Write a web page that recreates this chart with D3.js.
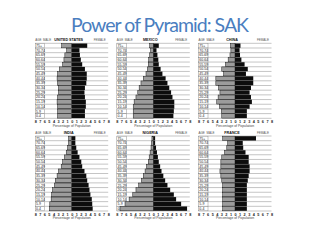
<!DOCTYPE html>
<html>
<head>
<meta charset="utf-8">
<script src="https://cdn.jsdelivr.net/npm/d3@7"></script>
<style>
  body { margin: 0; background: #fff; }
  svg { display: block; }
</style>
</head>
<body>
<svg id="chart" width="320" height="240"></svg>
<script>
// age groups, top to bottom
var ages = ["75+", "70-74", "65-69", "60-64", "55-59", "50-54", "45-49", "40-44",
            "35-39", "30-34", "25-29", "20-24", "15-19", "10-14", "5-9", "0-4"];
var countries = ["UNITED STATES", "MEXICO", "CHINA", "INDIA", "NIGERIA", "FRANCE"];
var tickValues = [-8, -7, -6, -5, -4, -3, -2, -1, 0, 1, 2, 3, 4, 5, 6, 7, 8];

// percentage of population, male / female
var usMale   = [2.2, 1.1, 1.5, 1.7, 2.0, 2.7, 3.1, 3.2, 3.1, 2.9, 2.9, 3.1, 3.2, 3.1, 3.1, 3.1];
var usFemale = [3.4, 1.7, 1.8, 2.0, 2.3, 2.9, 3.3, 3.3, 3.2, 2.9, 2.8, 2.9, 3.1, 3.1, 2.9, 2.9];
var mxMale   = [0.8, 0.6, 0.8, 1.0, 1.1, 1.3, 1.6, 2.2, 2.7, 3.1, 3.4, 3.8, 4.2, 4.4, 4.4, 4.4];
var mxFemale = [1.2, 0.7, 0.9, 1.1, 1.2, 1.6, 2.0, 2.7, 3.1, 3.5, 3.9, 4.2, 4.6, 4.6, 4.5, 4.4];
var cnMale   = [1.0, 0.9, 1.1, 1.5, 2.1, 2.9, 2.5, 4.2, 4.2, 3.6, 3.3, 3.7, 4.0, 3.4, 3.0, 2.9];
var cnFemale = [1.2, 1.0, 1.1, 1.4, 2.1, 2.8, 2.4, 4.0, 4.0, 3.5, 3.2, 3.5, 3.7, 3.2, 2.6, 2.6];
var inMale   = [0.7, 0.7, 0.9, 1.2, 1.6, 2.0, 2.3, 2.9, 3.2, 3.6, 3.8, 4.2, 4.4, 4.5, 4.8, 4.9];
var inFemale = [0.8, 0.8, 1.0, 1.3, 1.7, 2.1, 2.3, 2.8, 3.2, 3.4, 3.7, 3.9, 4.1, 4.4, 4.5, 4.6];
var ngMale   = [0.3, 0.4, 0.5, 0.7, 0.9, 1.1, 1.5, 1.8, 2.2, 2.6, 3.2, 3.8, 4.5, 5.3, 6.2, 7.3];
var ngFemale = [0.4, 0.4, 0.6, 0.8, 1.0, 1.2, 1.5, 1.8, 2.2, 2.6, 3.1, 3.7, 4.5, 5.0, 6.1, 7.4];
var frMale   = [2.7, 1.6, 1.8, 2.3, 2.9, 3.1, 3.1, 3.3, 3.1, 2.9, 2.7, 2.7, 2.7, 2.7, 2.7, 2.7];
var frFemale = [4.6, 1.7, 1.8, 2.3, 3.0, 3.0, 3.2, 3.2, 3.0, 2.8, 2.6, 2.6, 2.6, 2.6, 2.6, 2.6];

var maleSeries = [usMale, mxMale, cnMale, inMale, ngMale, frMale];
var femaleSeries = [usFemale, mxFemale, cnFemale, inFemale, ngFemale, frFemale];

var svg = d3.select("#chart");

svg.append("text")
    .attr("x", 160).attr("y", 32)
    .attr("text-anchor", "middle")
    .attr("textLength", 178)
    .attr("lengthAdjust", "spacing")
    .style("font-family", "Lato, 'Open Sans', sans-serif")
    .style("font-size", "19.5px")
    .style("fill", "#4a7ebf")
    .text("Power of Pyramid: SAK");

var centers = [71.7, 153.3, 235];
var rowTops = [43.3, 136];
var halfW = 36.5, plotH = 75;

countries.forEach(function (name, i) {
    var cx = centers[i % 3],
        top = rowTops[Math.floor(i / 3)];

    var x = d3.scaleLinear().domain([-8, 8]).range([cx - halfW, cx + halfW]);
    var y = d3.scaleBand().domain(ages).range([top, top + plotH]).paddingInner(0.07).paddingOuter(0.04);
    var row = d3.scaleBand().domain(ages).range([top, top + plotH]);

    var g = svg.append("g");

    // header
    var head = g.append("g").style("font-family", "'Liberation Sans', Arial, sans-serif");
    head.append("text").attr("x", cx - halfW).attr("y", top - 2.3)
        .style("font-size", "3px").style("fill", "#555").text("AGE");
    head.append("text").attr("x", cx - 24.5).attr("y", top - 2.3).attr("text-anchor", "middle")
        .style("font-size", "3px").style("fill", "#555").text("MALE");
    head.append("text").attr("x", cx - 3).attr("y", top - 2.1).attr("text-anchor", "middle")
        .style("font-family", "'Liberation Sans Narrow', 'Liberation Sans', Arial, sans-serif")
        .style("font-size", "3.7px").style("font-weight", "bold").style("fill", "#111").text(name);
    head.append("text").attr("x", cx + 28).attr("y", top - 2.3).attr("text-anchor", "middle")
        .style("font-size", "3px").style("fill", "#555").text("FEMALE");

    // row separators
    g.selectAll(".sep").data(ages).enter().append("line")
        .attr("x1", x(-8)).attr("x2", x(8))
        .attr("y1", function (d) { return row(d) + row.bandwidth(); })
        .attr("y2", function (d) { return row(d) + row.bandwidth(); })
        .style("stroke", "#8a8a8a").style("stroke-width", 0.5);
    g.append("line")
        .attr("x1", x(-8)).attr("x2", x(8)).attr("y1", top).attr("y2", top)
        .style("stroke", "#8a8a8a").style("stroke-width", 0.5);

    // age label cells
    g.selectAll(".cell").data(ages).enter().append("rect")
        .attr("x", x(-8)).attr("y", function (d) { return y(d); })
        .attr("width", 9.5).attr("height", y.bandwidth())
        .style("fill", "#fff").style("stroke", "#777").style("stroke-width", 0.4);
    g.selectAll(".age").data(ages).enter().append("text")
        .attr("x", x(-8) + 0.8)
        .attr("y", function (d) { return y(d) + y.bandwidth() / 2 + 1.3; })
        .style("font-family", "'Liberation Sans', Arial, sans-serif")
        .style("font-size", "3.5px").style("fill", "#222")
        .text(function (d) { return d; });

    // male bars
    g.selectAll(".m").data(maleSeries[i]).enter().append("rect")
        .attr("x", function (d) { return x(-d); })
        .attr("y", function (d, j) { return y(ages[j]); })
        .attr("width", function (d) { return x(0) - x(-d); })
        .attr("height", y.bandwidth())
        .style("fill", "#9c9c9c").style("stroke", "#1a1a1a").style("stroke-width", 0.5);

    // female bars
    g.selectAll(".f").data(femaleSeries[i]).enter().append("rect")
        .attr("x", x(0))
        .attr("y", function (d, j) { return y(ages[j]); })
        .attr("width", function (d) { return x(d) - x(0); })
        .attr("height", y.bandwidth())
        .style("fill", "#0d0d0d");

    // x axis
    var axis = d3.axisBottom(x).tickValues(tickValues).tickSize(0).tickPadding(1.5)
        .tickFormat(function (d) { return Math.abs(d); });
    var ax = g.append("g").attr("transform", "translate(0," + (top + plotH + 0.5) + ")").call(axis);
    ax.select(".domain").remove();
    ax.selectAll("text")
        .style("font-family", "'Liberation Sans', Arial, sans-serif")
        .style("font-size", "3.8px").style("font-weight", "bold").style("fill", "#222");

    g.append("text")
        .attr("x", cx).attr("y", top + plotH + 8.3)
        .attr("text-anchor", "middle")
        .style("font-family", "'Liberation Sans', Arial, sans-serif")
        .style("font-size", "3.4px").style("fill", "#444")
        .text("Percentage of Population");
});
</script>
</body>
</html>
